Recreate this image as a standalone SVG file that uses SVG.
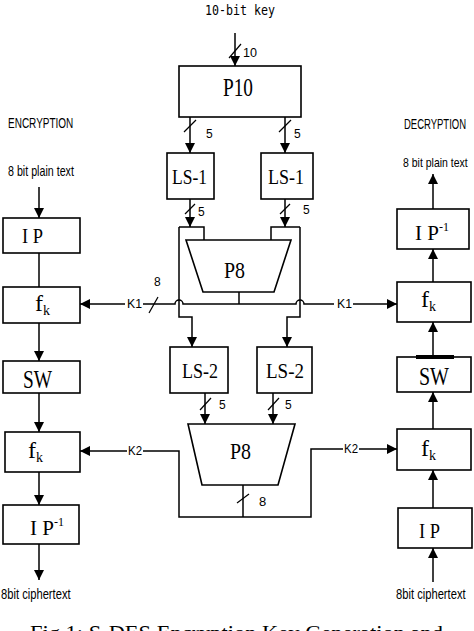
<svg xmlns="http://www.w3.org/2000/svg" width="474" height="631" viewBox="0 0 474 631">
<style>
.box{fill:#fff;stroke:#000;stroke-width:1.6}
.ln{fill:none;stroke:#000;stroke-width:1.5}
.sl{fill:none;stroke:#000;stroke-width:1.2}
.serif{font-family:"Liberation Serif","Times New Roman",serif;fill:#000}
.sans{font-family:"Liberation Sans",Arial,sans-serif;fill:#000}
.mono{font-family:"DejaVu Sans Mono","Liberation Mono",monospace;fill:#000}
</style>
<defs>
<marker id="ah" markerUnits="userSpaceOnUse" markerWidth="11" markerHeight="10" refX="10" refY="5" orient="auto">
<path d="M0,0 L10,5 L0,10 Z" fill="#000"/>
</marker>
</defs>
<rect width="474" height="631" fill="#fff"/>

<g id="connectors">
<path class="ln" d="M235,33 V66" marker-end="url(#ah)"/>
<path class="sl" d="M241,44 L229,58"/>
<path class="ln" d="M190,117 V153" marker-end="url(#ah)"/>
<path class="ln" d="M285,117 V153" marker-end="url(#ah)"/>
<path class="sl" d="M196,120 L184,132"/>
<path class="sl" d="M291,120 L279,132"/>
<path class="ln" d="M190,199 V227" marker-end="url(#ah)"/>
<path class="ln" d="M285,199 V227" marker-end="url(#ah)"/>
<path class="sl" d="M195,204 L185,214"/>
<path class="sl" d="M290,204 L280,214"/>
<path class="ln" d="M179,227 H204 V240"/>
<path class="ln" d="M271,240 V227 H300"/>
<path class="ln" d="M179,227 V317 H192 V347" marker-end="url(#ah)"/>
<path class="ln" d="M300,227 V317 H287 V347" marker-end="url(#ah)"/>
<path class="ln" d="M239,292 V304"/>
<path class="ln" d="M125,304 H80" marker-end="url(#ah)"/>
<path class="ln" d="M143,304 H175 A4,4 0 0 1 183,304 H296 A4,4 0 0 1 304,304 H334"/>
<path class="ln" d="M353,304 H397" marker-end="url(#ah)"/>
<path class="sl" d="M158,297 L149,313"/>
<path class="ln" d="M205,393 V424" marker-end="url(#ah)"/>
<path class="ln" d="M273,393 V424" marker-end="url(#ah)"/>
<path class="sl" d="M211,398 L200,410"/>
<path class="sl" d="M279,398 L268,410"/>
<path class="ln" d="M127,451 H80" marker-end="url(#ah)"/>
<path class="ln" d="M143,451 H179 V517 H311 V449 H343"/>
<path class="ln" d="M359,449 H397" marker-end="url(#ah)"/>
<path class="ln" d="M243,485 V517"/>
<path class="sl" d="M249,494 L237,503"/>
<path class="ln" d="M39,187 V218" marker-end="url(#ah)"/>
<path class="ln" d="M39,253 V287"/>
<path class="ln" d="M39,323 V361" marker-end="url(#ah)"/>
<path class="ln" d="M39,393 V432" marker-end="url(#ah)"/>
<path class="ln" d="M39,472 V505" marker-end="url(#ah)"/>
<path class="ln" d="M39,544 V580" marker-end="url(#ah)"/>
<path class="ln" d="M433,209 V174" marker-end="url(#ah)"/>
<path class="ln" d="M433,282 V249" marker-end="url(#ah)"/>
<path class="ln" d="M433,357 V322" marker-end="url(#ah)"/>
<path class="ln" d="M433,429 V392" marker-end="url(#ah)"/>
<path class="ln" d="M433,508 V470" marker-end="url(#ah)"/>
<path class="ln" d="M433,582 V548" marker-end="url(#ah)"/>
</g>

<g id="labels">
<text class="mono" x="205" y="15" font-size="14" textLength="70" lengthAdjust="spacingAndGlyphs">10-bit key</text>
<text class="sans" x="243" y="57" font-size="12" textLength="14" lengthAdjust="spacingAndGlyphs">10</text>
<text class="sans" x="206" y="138" font-size="12">5</text>
<text class="sans" x="294" y="138" font-size="12">5</text>
<text class="sans" x="198" y="216" font-size="12">5</text>
<text class="sans" x="303" y="214" font-size="12">5</text>
<text class="sans" x="154" y="286" font-size="12">8</text>
<text class="sans" x="127" y="308" font-size="12" textLength="15" lengthAdjust="spacingAndGlyphs">K1</text>
<text class="sans" x="337" y="308" font-size="12" textLength="15" lengthAdjust="spacingAndGlyphs">K1</text>
<text class="sans" x="219" y="409" font-size="12">5</text>
<text class="sans" x="285" y="409" font-size="12">5</text>
<text class="sans" x="128" y="455" font-size="12" textLength="14" lengthAdjust="spacingAndGlyphs">K2</text>
<text class="sans" x="344" y="453" font-size="12" textLength="14" lengthAdjust="spacingAndGlyphs">K2</text>
<text class="sans" x="259" y="506" font-size="13">8</text>
<text class="sans" transform="translate(8,128) scale(1,1.5)" font-size="10">ENCRYPTION</text>
<text class="sans" transform="translate(8,176) scale(1,1.3)" font-size="10.7">8 bit plain text</text>
<text class="sans" transform="translate(1,599) scale(1,1.3)" font-size="11.2">8bit ciphertext</text>
<text class="sans" transform="translate(404,129) scale(1,1.55)" font-size="9.5">DECRYPTION</text>
<text class="sans" transform="translate(403,167) scale(1,1.3)" font-size="10.5">8 bit plain text</text>
<text class="sans" transform="translate(396,599) scale(1,1.3)" font-size="11.2">8bit ciphertext</text>
<text class="serif" x="30" y="640" font-size="22" textLength="413" lengthAdjust="spacingAndGlyphs">Fig 1: S-DES Encryption Key Generation and</text>
</g>

<g id="P10">
<rect class="box" x="179" y="66" width="122" height="51"/>
<text class="serif" x="223" y="96" font-size="25" textLength="30" lengthAdjust="spacingAndGlyphs">P10</text>
</g>
<g id="LS1-left">
<rect class="box" x="167" y="153" width="47" height="46"/>
<text class="serif" x="172" y="184" font-size="22" textLength="35" lengthAdjust="spacingAndGlyphs">LS-1</text>
</g>
<g id="LS1-right">
<rect class="box" x="261" y="153" width="52" height="46"/>
<text class="serif" x="268" y="184" font-size="22" textLength="36" lengthAdjust="spacingAndGlyphs">LS-1</text>
</g>
<g id="P8-top">
<path class="box" d="M186,240 H291 L274,292 H203 Z"/>
<text class="serif" x="224" y="278" font-size="23" textLength="21" lengthAdjust="spacingAndGlyphs">P8</text>
</g>
<g id="LS2-left">
<rect class="box" x="170" y="347" width="58" height="46"/>
<text class="serif" x="182" y="378" font-size="22" textLength="36" lengthAdjust="spacingAndGlyphs">LS-2</text>
</g>
<g id="LS2-right">
<rect class="box" x="257" y="347" width="55" height="46"/>
<text class="serif" x="266" y="378" font-size="22" textLength="38" lengthAdjust="spacingAndGlyphs">LS-2</text>
</g>
<g id="P8-bottom">
<path class="box" d="M188,424 H295 L278,485 H202 Z"/>
<text class="serif" x="230" y="459" font-size="23" textLength="21" lengthAdjust="spacingAndGlyphs">P8</text>
</g>

<g id="enc-IP">
<rect class="box" x="3" y="218" width="77" height="35"/>
<text class="serif" x="22" y="243" font-size="22" textLength="21" lengthAdjust="spacingAndGlyphs">I P</text>
</g>
<g id="enc-fk1">
<rect class="box" x="3" y="287" width="77" height="36"/>
<text class="serif" x="35" y="311" font-size="24">f<tspan font-size="14" dy="4">k</tspan></text>
</g>
<g id="enc-SW">
<rect class="box" x="3" y="361" width="77" height="32"/>
<text class="serif" x="23" y="388" font-size="25" textLength="29" lengthAdjust="spacingAndGlyphs">SW</text>
</g>
<g id="enc-fk2">
<rect class="box" x="5" y="432" width="75" height="40"/>
<text class="serif" x="28" y="458" font-size="24">f<tspan font-size="14" dy="4">k</tspan></text>
</g>
<g id="enc-IPinv">
<rect class="box" x="3" y="505" width="76" height="39"/>
<text class="serif" x="30" y="535" font-size="21">I P<tspan font-size="12" dy="-9">-1</tspan></text>
</g>

<g id="dec-IPinv">
<rect class="box" x="397" y="209" width="72" height="40"/>
<text class="serif" x="415" y="240" font-size="21">I P<tspan font-size="12" dy="-9">-1</tspan></text>
</g>
<g id="dec-fk1">
<rect class="box" x="397" y="282" width="74" height="40"/>
<text class="serif" x="421" y="307" font-size="24">f<tspan font-size="14" dy="4">k</tspan></text>
</g>
<g id="dec-SW">
<rect class="box" x="397" y="357" width="74" height="35"/>
<path d="M416,357 H454" stroke="#000" stroke-width="4"/>
<text class="serif" x="419" y="385" font-size="25" textLength="30" lengthAdjust="spacingAndGlyphs">SW</text>
</g>
<g id="dec-fk2">
<rect class="box" x="397" y="429" width="74" height="41"/>
<text class="serif" x="421" y="456" font-size="24">f<tspan font-size="14" dy="4">k</tspan></text>
</g>
<g id="dec-IP">
<rect class="box" x="398" y="508" width="74" height="40"/>
<text class="serif" x="419" y="538" font-size="22" textLength="21" lengthAdjust="spacingAndGlyphs">I P</text>
</g>
</svg>
